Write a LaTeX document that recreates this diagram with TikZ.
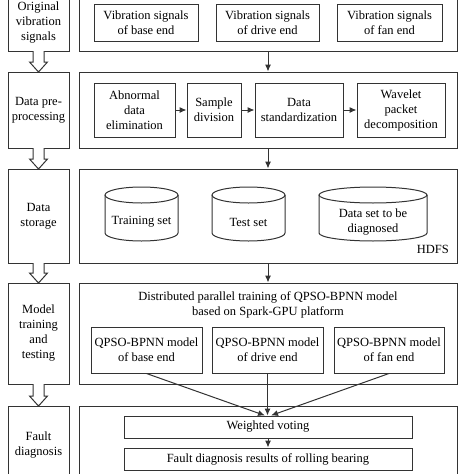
\documentclass[tikz,border=0pt]{standalone}
\usepackage{fontspec}
\setmainfont{Liberation Serif}
\usetikzlibrary{arrows.meta}
\begin{document}
\begin{tikzpicture}[x=1pt,y=-1pt,
  lc/.style={draw=black!80, line width=1pt},
  box/.style={lc, rectangle, inner sep=0pt, align=center, font=\fontsize{12.5}{15}\selectfont},
  arr/.style={lc, -{Latex[length=7pt,width=6pt]}},
  txt/.style={inner sep=0pt, align=center, font=\fontsize{12.5}{15}\selectfont},
  hollow/.style={lc, fill=white, line join=miter}]
\useasboundingbox (0,0) rectangle (474,474);
\clip (0,0) rectangle (474,474);
% left column
\node[box, minimum width=61pt, minimum height=57pt] (l1) at (38.5,22.5) {Original\\vibration\\signals};
\node[box, minimum width=61pt, minimum height=76pt] (l2) at (38.5,110) {Data pre-\\processing};
\node[box, minimum width=61pt, minimum height=94pt] (l3) at (38.5,216) {Data\\storage};
\node[box, minimum width=61pt, minimum height=101pt] (l4) at (38.5,333.5) {Model\\training\\and\\testing};
\node[box, minimum width=61pt, minimum height=78pt] (l5) at (38.5,445) {Fault\\diagnosis};
% hollow arrows
\foreach \a/\b in {51/72,148/169,263/283,384/406}{
  \draw[hollow] (33,\a) -- (33,\b-10) -- (29.5,\b-10) -- (38.5,\b) -- (47.5,\b-10) -- (44,\b-10) -- (44,\a);
}
% big frames
\node[box, minimum width=378pt, minimum height=57pt] (f1) at (268,22.5) {};
\node[box, minimum width=378pt, minimum height=76pt] (f2) at (268,110) {};
\node[box, minimum width=378pt, minimum height=94pt] (f3) at (268,216) {};
\node[box, minimum width=378pt, minimum height=101pt] (f4) at (268,333.5) {};
\node[box, minimum width=378pt, minimum height=78pt] (f5) at (268,445) {};
% row 1
\node[box, minimum width=104pt, minimum height=37pt] (v1) at (146,22.5) {Vibration signals\\of base end};
\node[box, minimum width=103pt, minimum height=37pt] (v2) at (267.5,22.5) {Vibration signals\\of drive end};
\node[box, minimum width=105pt, minimum height=37pt] (v3) at (389.5,22.5) {Vibration signals\\of fan end};
% row 2
\node[box, minimum width=81pt, minimum height=54pt] (p1) at (134.5,110) {Abnormal\\data\\elimination};
\node[box, minimum width=54pt, minimum height=54pt] (p2) at (214,110) {Sample\\division};
\node[box, minimum width=88pt, minimum height=54pt] (p3) at (299,110) {Data\\standardization};
\node[box, minimum width=88pt, minimum height=54pt] (p4) at (401,110) {Wavelet\\packet\\decomposition};
\draw[arr] (p1) -- (p2);
\draw[arr] (p2) -- (p3);
\draw[arr] (p3) -- (p4);
% row 3 cylinders
\foreach \L/\R in {105/178,212/285,319/427}{
  \pgfmathsetmacro\rx{(\R-\L)/2}
  \pgfmathsetmacro\cx{(\R+\L)/2}
  \draw[lc] (\cx,195) ellipse [x radius=\rx, y radius=8];
  \draw[lc] (\L,195) -- (\L,233) arc[start angle=180, end angle=0, x radius=\rx, y radius=8] -- (\R,195);
}
\node[txt] (s1) at (141.5,222) {Training set};
\node[txt] (s2) at (248.5,222) {Test set};
\node[txt] (s3) at (373,222.5) {Data set to be\\diagnosed};
\node[txt, anchor=east] (hdfs) at (449,249) {HDFS};
% row 4
\node[txt] (title) at (268,304.5) {Distributed parallel training of QPSO-BPNN model\\based on Spark-GPU platform};
\node[box, minimum width=111pt, minimum height=46pt] (m1) at (146.5,350) {QPSO-BPNN model\\of base end};
\node[box, minimum width=111pt, minimum height=46pt] (m2) at (267.5,350) {QPSO-BPNN model\\of drive end};
\node[box, minimum width=110pt, minimum height=46pt] (m3) at (389,350) {QPSO-BPNN model\\of fan end};
% row 5
\node[box, minimum width=288pt, minimum height=22pt] (vote) at (268,427) {Weighted voting};
\node[box, minimum width=288pt, minimum height=22pt] (res) at (268,459) {Fault diagnosis results of rolling bearing};
% connectors
\draw[arr] (f1.south) -- (f2.north);
\draw[arr] (f2.south) -- (f3.north);
\draw[arr] (f3.south) -- (f4.north);
\draw[arr] (m1.south) -- ([xshift=-3pt]vote.north);
\draw[arr] (m2.south) -- (m2.south |- vote.north);
\draw[arr] (m3.south) -- ([xshift=3pt]vote.north);
\draw[arr] (vote) -- (res);
\end{tikzpicture}
\end{document}
